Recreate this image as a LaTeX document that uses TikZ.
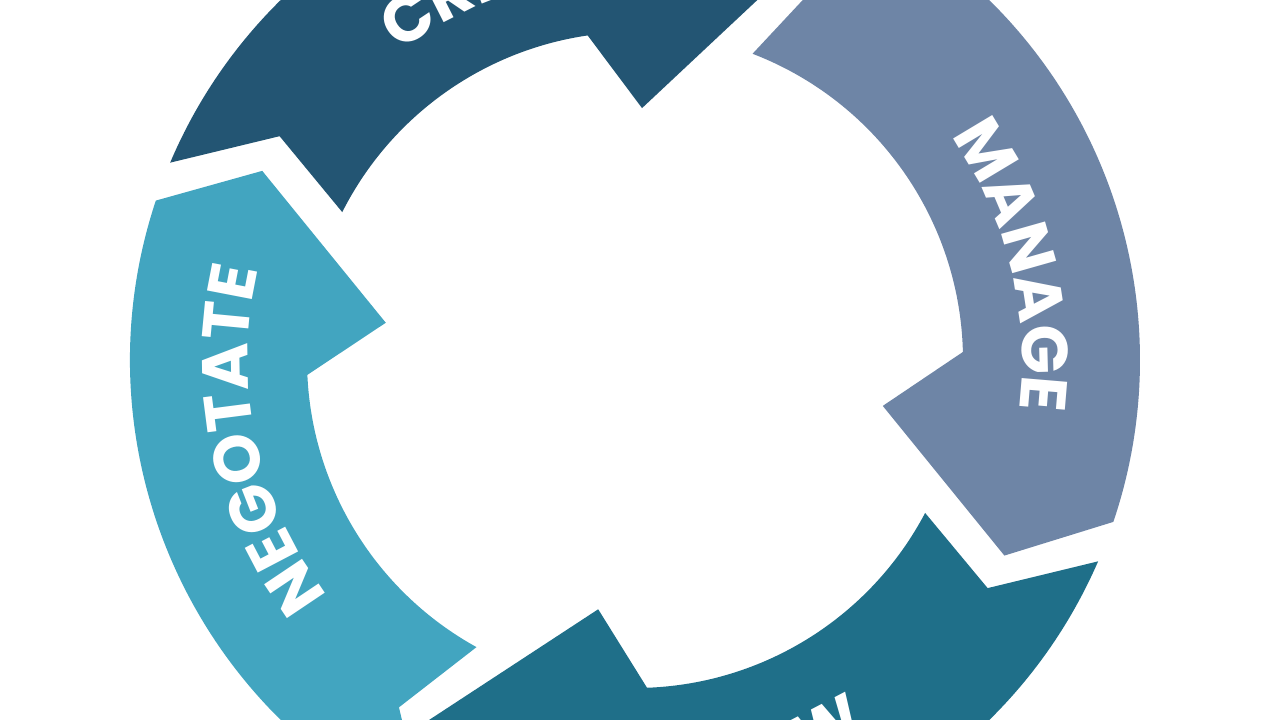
\documentclass[tikz,border=0pt]{standalone}
\usepackage{fontspec}
\newfontfamily\poppins{Poppins}
\usetikzlibrary{decorations.text}
\definecolor{createblue}{RGB}{35,85,115}
\definecolor{manageblue}{RGB}{110,133,166}
\definecolor{renewteal}{RGB}{31,111,137}
\definecolor{negoteal}{RGB}{66,165,192}
\newcommand{\lblfont}{\poppins\bfseries\fontsize{18.5}{20}\selectfont}
\tikzset{
  seglabel/.style={decorate, decoration={text along path, text align=center,
    text color=white, text={|\lblfont|#1}}}
}
\begin{document}
\begin{tikzpicture}
      \useasboundingbox (-6.35,-3.6) rectangle (6.45,3.6);
      \fill[white] (-6.35,-3.6) rectangle (6.45,3.6);
      \clip (-6.35,-3.6) rectangle (6.45,3.6);
      % the four chevron segments, clockwise
      \fill[createblue] (157:5.05) -- (147.8:4.2) -- (153.2:3.28)
        arc[start angle=153.2, end angle=98.3, radius=3.28]
        -- (88.4:2.52) -- (68.5:4.18) -- (78:5.05)
        arc[start angle=78, end angle=157, radius=5.05] -- cycle;
      \fill[manageblue] (73.5:5.05) -- (64:4.2) -- (69:3.28)
        arc[start angle=69, end angle=1.4, radius=3.28]
        -- (-10.5:2.52) -- (-27.9:4.18) -- (-18.7:5.05)
        arc[start angle=-18.7, end angle=73.5, radius=5.05] -- cycle;
      \fill[renewteal] (-23.5:5.05) -- (-32.9:4.2) -- (-27.8:3.28)
        arc[start angle=-27.8, end angle=-87.9, radius=3.28]
        -- (-98.4:2.52) -- (-120:4.18) -- (-110.5:5.05)
        arc[start angle=-110.5, end angle=-23.5, radius=5.05] -- cycle;
      \fill[negoteal] (-114.5:5.05) -- (-124.2:4.2) -- (-118.9:3.28)
        arc[start angle=-118.9, end angle=-177.4, radius=3.28]
        -- (171.5:2.52) -- (153.1:4.18) -- (161.6:5.05)
        arc[start angle=161.6, end angle=245.5, radius=5.05] -- cycle;
      % labels
      \path[seglabel=CREATE] (149:3.87) arc[start angle=149, end angle=69, radius=3.87];
      \path[seglabel=MANAGE] (54:3.87) arc[start angle=54, end angle=-26, radius=3.87];
      \path[seglabel=RENEW] (-113:4.37) arc[start angle=-113, end angle=-33, radius=4.37];
      \path[seglabel=NEGOTATE] (232:3.87) arc[start angle=232, end angle=152, radius=3.87];
    \end{tikzpicture}
\end{document}
